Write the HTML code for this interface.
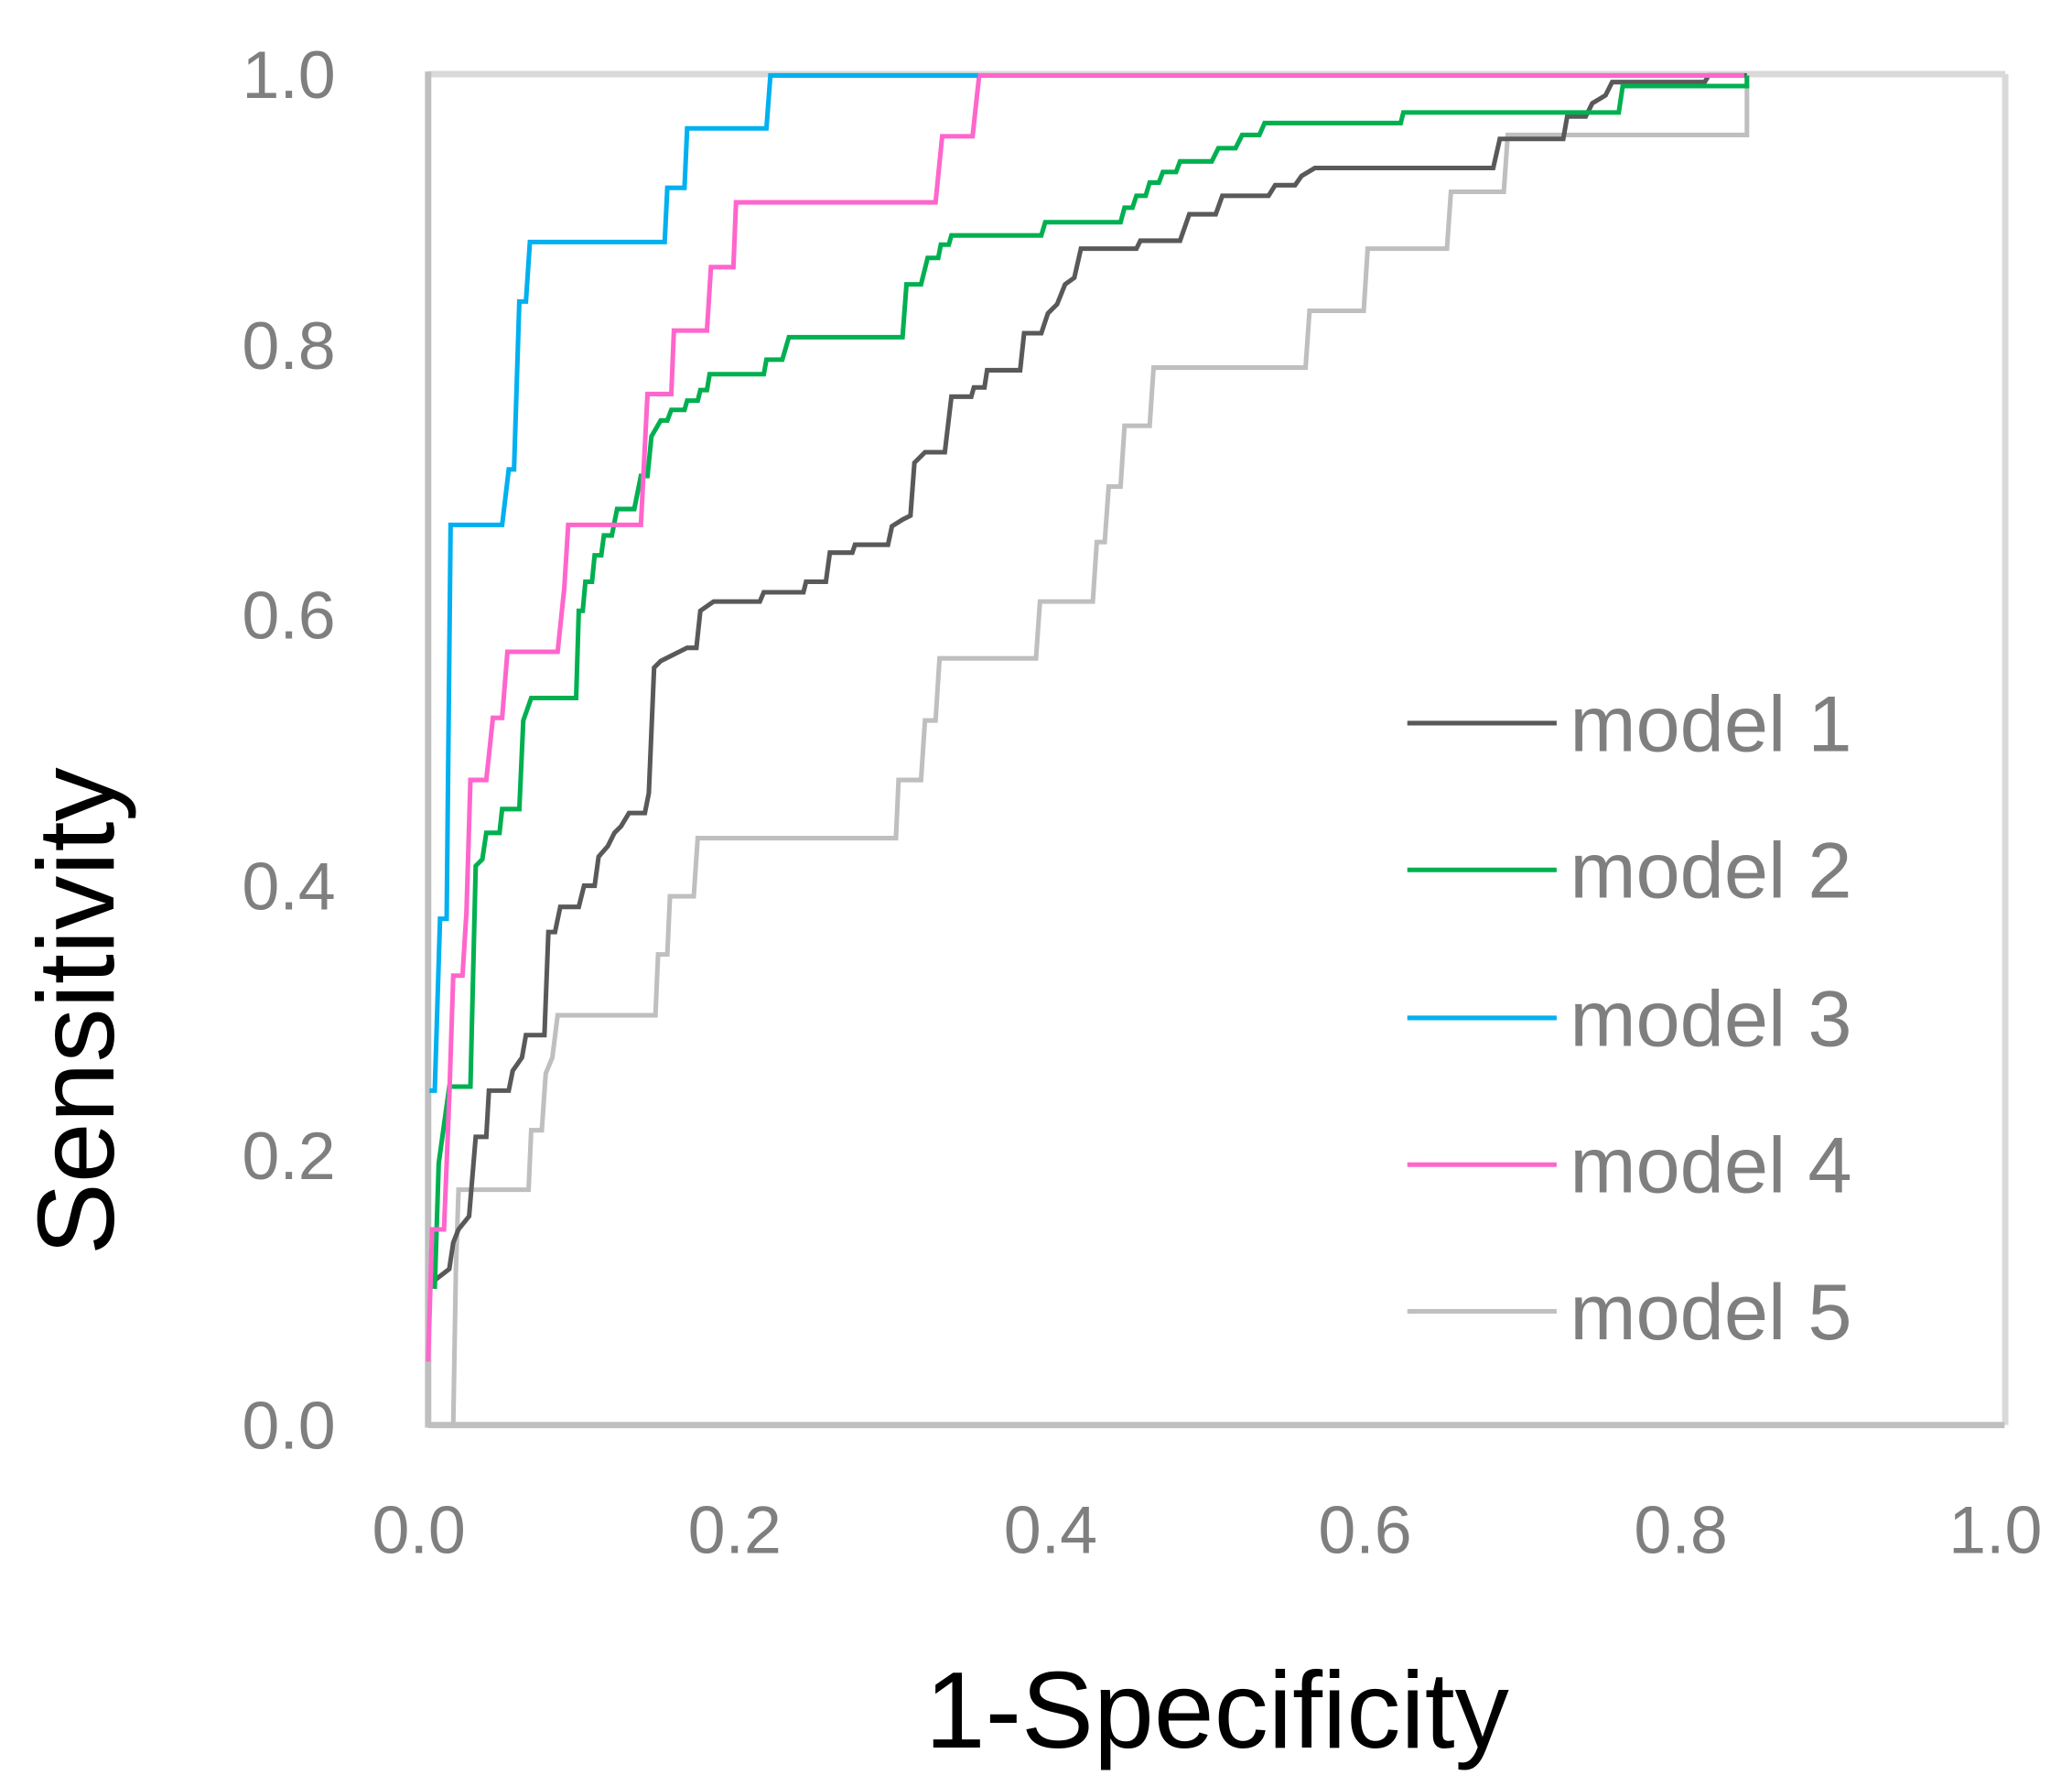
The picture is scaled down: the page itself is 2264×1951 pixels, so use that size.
<!DOCTYPE html>
<html><head><meta charset="utf-8"><style>
html,body{margin:0;padding:0;background:#fff;}
svg{display:block;}
</style></head><body>
<svg width="2264" height="1951" viewBox="0 0 1568 1351" xmlns="http://www.w3.org/2000/svg">
<rect width="1568" height="1351" fill="#fff"/>
<g fill="none" stroke-width="4.8">
<line x1="324" y1="56" x2="1517.5" y2="56" stroke="#d9d9d9"/>
<line x1="1517.5" y1="56" x2="1517.5" y2="1078" stroke="#d9d9d9"/>
<line x1="324" y1="54" x2="324" y2="1080" stroke="#bfbfbf"/>
<line x1="324" y1="1078" x2="1517" y2="1078" stroke="#bfbfbf"/>
</g>
<g fill="none" stroke-width="3.5" stroke-linejoin="miter">
<polyline stroke="#bfbfbf" points="343,1078 345,960 347,900 400,900 402,855 410,855 413,812 418,800 422,768 496,768 498,722 505,722 507,678 525,678 528,634 678,634 680,590 697,590 700,545 708,545 711,498 784,498 787,455 827,455 830,410 836,410 839,368 848,368 851,322 870,322 873,278 988,278 991,235 1032,235 1035,188 1095,188 1098,145 1138,145 1141,102 1322,102 1322,57"/>
<polyline stroke="#595959" points="327,970 340,960 343,940 347,930 355,920 360,860 368,860 370,825 385,825 388,810 395,800 398,783 412,783 415,705 420,705 424,686 438,686 442,670 450,670 453,648 460,640 465,630 470,625 476,615 488,615 491,600 495,505 500,500 520,490 527,490 530,462 540,455 575,455 578,448 608,448 610,440 625,440 628,418 645,418 647,412 672,412 675,398 683,393 689,390 692,350 700,342 715,342 720,300 735,300 737,293 745,293 747,280 772,280 775,252 788,252 793,237 800,230 806,215 813,210 818,188 860,188 863,182 893,182 900,162 920,162 925,148 960,148 965,140 980,140 985,133 995,127 1130,127 1135,105 1183,105 1186,88 1200,88 1205,78 1215,72 1220,62 1290,62 1293,57 1322,57"/>
<polyline stroke="#00b050" points="329,975 332,880 340,822 356,822 360,655 365,650 368,630 378,630 380,612 393,612 396,545 402,528 436,528 438,462 441,462 443,440 448,440 450,420 455,420 457,405 463,405 467,385 480,385 485,360 490,360 493,330 500,318 505,318 508,310 518,310 520,303 528,303 530,295 535,295 537,283 578,283 580,272 592,272 597,255 683,255 686,215 697,215 702,195 710,195 712,185 718,185 720,178 788,178 791,168 848,168 851,157 857,157 860,148 867,148 870,138 877,138 880,130 890,130 893,122 917,122 922,112 935,112 940,102 953,102 957,93 1060,93 1062,85 1225,85 1228,65 1322,65 1322,57"/>
<polyline stroke="#ff66cc" points="324,1030 327,930 336,930 340,830 343,738 350,738 353,690 356,590 368,590 373,543 380,543 384,493 422,493 427,445 430,397 485,397 490,298 508,298 510,250 535,250 538,202 555,202 557,153 708,153 713,103 736,103 741,57 1320,57"/>
<polyline stroke="#00b0f0" points="325,825 329,825 333,695 338,695 341,397 380,397 385,355 389,355 393,228 398,228 401,183 503,183 505,142 518,142 520,97 580,97 583,57 740,57"/>
<line x1="1065" y1="547" x2="1178" y2="547" stroke="#595959"/>
<line x1="1065" y1="658" x2="1178" y2="658" stroke="#00b050"/>
<line x1="1065" y1="770" x2="1178" y2="770" stroke="#00b0f0"/>
<line x1="1065" y1="881" x2="1178" y2="881" stroke="#ff66cc"/>
<line x1="1065" y1="992" x2="1178" y2="992" stroke="#bfbfbf"/>
</g>
<g font-family="Liberation Sans, sans-serif" fill="#7f7f7f" font-size="51">
<g text-anchor="end">
<text x="254" y="74">1.0</text>
<text x="254" y="279">0.8</text>
<text x="254" y="483">0.6</text>
<text x="254" y="688">0.4</text>
<text x="254" y="892">0.2</text>
<text x="254" y="1096">0.0</text>
</g>
<g text-anchor="middle">
<text x="317" y="1175">0.0</text>
<text x="556" y="1175">0.2</text>
<text x="795" y="1175">0.4</text>
<text x="1033" y="1175">0.6</text>
<text x="1272" y="1175">0.8</text>
<text x="1510" y="1175">1.0</text>
</g>
<g font-size="60">
<text x="1188" y="568">model 1</text>
<text x="1188" y="679">model 2</text>
<text x="1188" y="791">model 3</text>
<text x="1188" y="902">model 4</text>
<text x="1188" y="1013">model 5</text>
</g>
</g>
<g font-family="Liberation Sans, sans-serif" fill="#000" font-size="82" text-anchor="middle">
<text x="921" y="1322">1-Specificity</text>
<text transform="translate(86,765) rotate(-90)">Sensitivity</text>
</g>
</svg>
</body></html>
